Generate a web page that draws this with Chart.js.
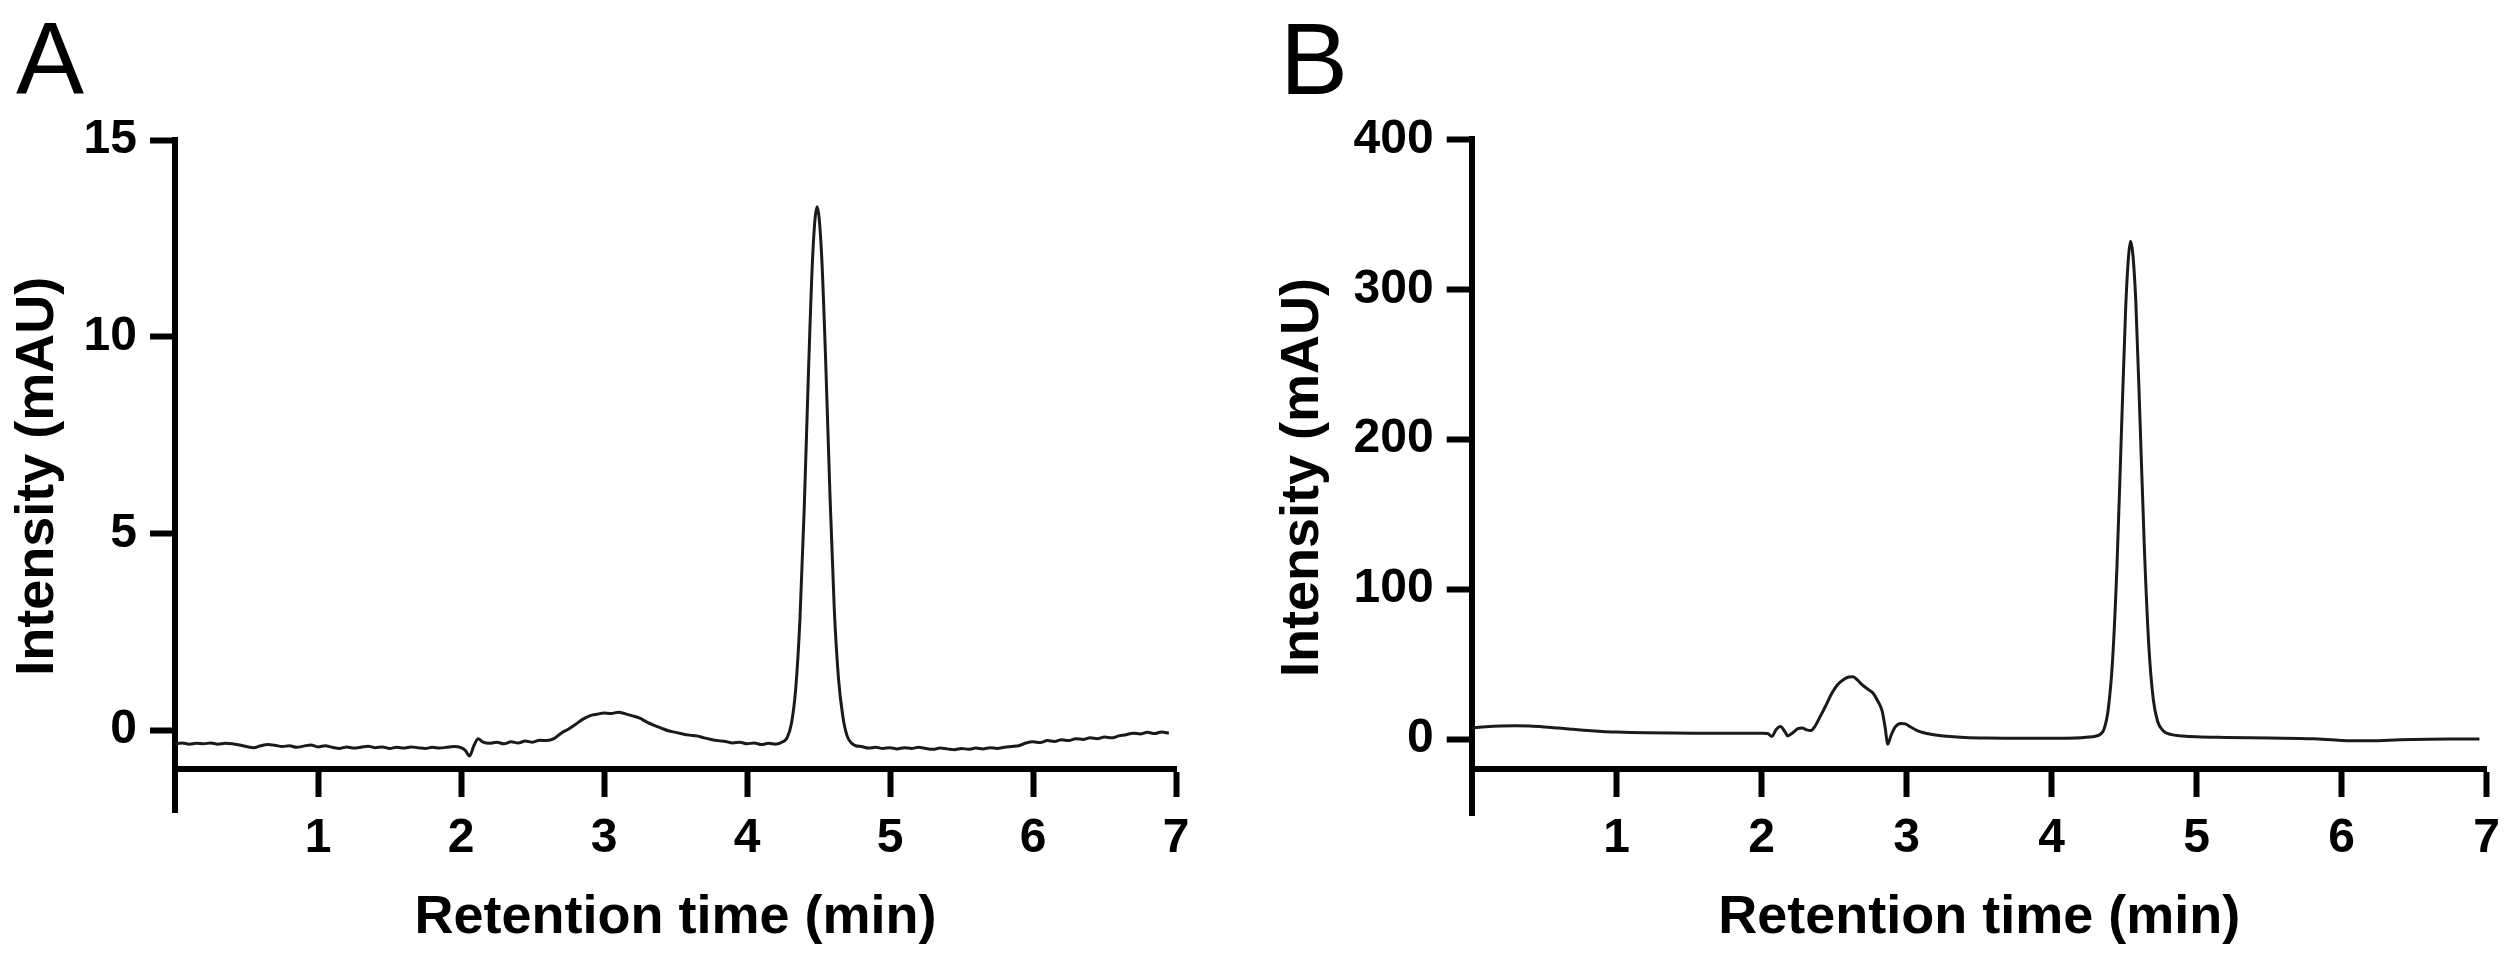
<!DOCTYPE html>
<html>
<head>
<meta charset="utf-8">
<title>Retention time chromatograms</title>
<script src="https://cdn.jsdelivr.net/npm/chart.js@4.4.1/dist/chart.umd.min.js"></script>
<style>
  html, body { margin: 0; padding: 0; background: #fff; }
  #wrap { position: relative; width: 2520px; height: 979px; }
  canvas { position: absolute; top: 0; }
</style>
</head>
<body>
<div id="wrap">
  <canvas id="chart-a" width="1260" height="979" style="left:0"></canvas>
  <canvas id="chart-b" width="1260" height="979" style="left:1260px"></canvas>
</div>
<script>
// ============================================
// Chromatograms — panel A and panel B
// ============================================

// --- Panel A: retention time (min) / intensity (mAU)
const timeA = [
  0.00, 0.05, 0.10, 0.15, 0.20, 0.25, 0.30, 0.35, 0.40, 0.45,
  0.50, 0.55, 0.60, 0.65, 0.70, 0.75, 0.80, 0.85, 0.90, 0.95,
  1.00, 1.05, 1.10, 1.15, 1.20, 1.25, 1.30, 1.35, 1.40, 1.45,
  1.50, 1.55, 1.60, 1.65, 1.70, 1.75, 1.80, 1.85, 1.90, 1.95,
  2.00, 2.03, 2.06, 2.09, 2.12, 2.15, 2.20, 2.25, 2.30, 2.35,
  2.40, 2.45, 2.50, 2.55, 2.60, 2.65, 2.70, 2.75, 2.80, 2.85,
  2.90, 2.95, 3.00, 3.05, 3.10, 3.15, 3.20, 3.25, 3.30, 3.35,
  3.40, 3.45, 3.50, 3.55, 3.60, 3.65, 3.70, 3.75, 3.80, 3.85,
  3.90, 3.95, 4.00, 4.05, 4.10, 4.15, 4.20, 4.25, 4.28, 4.31,
  4.34, 4.37, 4.40, 4.43, 4.46, 4.49, 4.52, 4.55, 4.58, 4.61,
  4.64, 4.67, 4.70, 4.73, 4.76, 4.80, 4.85, 4.90, 4.95, 5.00,
  5.05, 5.10, 5.15, 5.20, 5.25, 5.30, 5.35, 5.40, 5.45, 5.50,
  5.55, 5.60, 5.65, 5.70, 5.75, 5.80, 5.85, 5.90, 5.95, 6.00,
  6.05, 6.10, 6.15, 6.20, 6.25, 6.30, 6.35, 6.40, 6.45, 6.50,
  6.55, 6.60, 6.65, 6.70, 6.75, 6.80, 6.85, 6.90, 6.95
];
const intensityA = [
  -0.35, -0.33, -0.36, -0.34, -0.35, -0.33, -0.36, -0.34, -0.35, -0.38,
  -0.42, -0.45, -0.40, -0.37, -0.39, -0.42, -0.40, -0.44, -0.41, -0.38,
  -0.43, -0.40, -0.44, -0.47, -0.43, -0.46, -0.44, -0.41, -0.45, -0.43,
  -0.47, -0.44, -0.46, -0.43, -0.45, -0.47, -0.44, -0.46, -0.44, -0.42,
  -0.45, -0.52, -0.66, -0.40, -0.22, -0.30, -0.34, -0.31, -0.35, -0.30,
  -0.33, -0.28, -0.31, -0.26, -0.27, -0.22, -0.08, 0.02, 0.14, 0.27,
  0.36, 0.40, 0.43, 0.42, 0.45, 0.41, 0.36, 0.30, 0.20, 0.12,
  0.05, -0.02, -0.06, -0.10, -0.13, -0.15, -0.20, -0.24, -0.27, -0.29,
  -0.33, -0.31, -0.35, -0.33, -0.37, -0.34, -0.36, -0.30, -0.20, 0.15,
  1.02, 2.79, 5.62, 9.11, 12.10, 13.30, 12.20, 9.40, 6.00, 3.10,
  1.30, 0.35, -0.15, -0.33, -0.40, -0.42, -0.46, -0.44, -0.47, -0.45,
  -0.48, -0.45, -0.47, -0.44, -0.47, -0.49, -0.46, -0.48, -0.50, -0.47,
  -0.49, -0.46, -0.48, -0.45, -0.47, -0.44, -0.42, -0.40, -0.33, -0.30,
  -0.32, -0.27, -0.29, -0.25, -0.27, -0.22, -0.24, -0.20, -0.22, -0.18,
  -0.20, -0.15, -0.12, -0.08, -0.10, -0.06, -0.09, -0.05, -0.08
];
const yTicksA = [0, 5, 10, 15];
const yRangeA = [-2.1, 15];
const xAxisAtA = -1;

// --- Panel B
const timeB = [
  0.00, 0.10, 0.20, 0.30, 0.40, 0.50, 0.60, 0.70, 0.80, 0.90,
  1.00, 1.10, 1.20, 1.40, 1.60, 1.80, 2.00, 2.04, 2.07, 2.10,
  2.13, 2.16, 2.18, 2.21, 2.25, 2.28, 2.31, 2.34, 2.37, 2.40,
  2.44, 2.48, 2.52, 2.56, 2.60, 2.63, 2.66, 2.69, 2.73, 2.77,
  2.80, 2.83, 2.85, 2.87, 2.89, 2.92, 2.96, 2.99, 3.03, 3.09,
  3.15, 3.21, 3.30, 3.40, 3.55, 3.80, 4.00, 4.10, 4.20, 4.26,
  4.30, 4.33, 4.36, 4.39, 4.42, 4.45, 4.48, 4.51, 4.53, 4.545,
  4.56, 4.58, 4.61, 4.64, 4.67, 4.70, 4.73, 4.77, 4.82, 4.90,
  5.00, 5.20, 5.50, 5.80, 6.00, 6.20, 6.40, 6.60, 6.80, 6.95
];
const intensityB = [
  7.5, 8.3, 8.8, 9.0, 8.8, 8.2, 7.4, 6.6, 5.8, 5.2,
  4.8, 4.5, 4.3, 4.1, 4.0, 3.9, 3.9, 3.8, 1.8, 6.5,
  8.4, 5.0, 2.2, 4.0, 7.0, 7.5, 6.2, 5.8, 9.0, 14.5,
  22.0, 30.0, 36.0, 39.5, 41.5, 41.7, 39.5, 36.5, 33.5, 30.5,
  25.5, 19.0, 8.6, -3.3, 2.0, 8.0, 10.5, 10.2, 8.0, 5.0,
  3.6, 2.7, 1.8, 1.2, 0.8, 0.6, 0.6, 0.7, 1.0, 1.4,
  2.0, 3.0, 6.5, 20.0, 53.0, 115.0, 202.0, 287.0, 322.0, 332.0,
  323.0, 292.0, 210.0, 125.0, 62.0, 27.0, 12.0, 5.5, 3.2, 2.2,
  1.6, 1.2, 0.8, 0.3, -0.8, -1.0, -0.4, 0.0, 0.1, 0.2
];
const yTicksB = [0, 100, 200, 300, 400];
const yRangeB = [-51, 400];
const xAxisAtB = -20;

// --- shared axis
const xTicks = [1, 2, 3, 4, 5, 6, 7];
const xRange = [0, 7];

const FONT = "'Liberation Sans', Arial, Helvetica, sans-serif";

function toPoints(xs, ys) {
  return xs.map((x, i) => ({ x, y: ys[i] }));
}

function buildChart(canvasId, cfg) {
  const tickFont = { family: FONT, size: 48, weight: 'bold', lineHeight: 1.2 };

  return new Chart(document.getElementById(canvasId), {
    type: 'line',
    data: {
      datasets: [{
        data: toPoints(cfg.time, cfg.intensity),
        borderColor: '#1a1a1a',
        borderWidth: 3,
        pointRadius: 0,
        fill: false,
        cubicInterpolationMode: 'monotone'
      }]
    },
    options: {
      responsive: false,
      devicePixelRatio: 1,
      animation: false,
      events: [],
      layout: {
        padding: { left: cfg.padLeft, right: cfg.padRight, top: 0, bottom: cfg.padBottom }
      },
      plugins: {
        legend: { display: false },
        tooltip: { enabled: false },
        title: {
          display: true,
          text: cfg.letter,
          align: 'start',
          color: '#000',
          font: { family: FONT, size: 102, weight: 'normal', lineHeight: 1 },
          padding: { top: 15, bottom: cfg.letterGap }
        }
      },
      scales: {
        x: {
          type: 'linear',
          position: { y: cfg.xAxisAt },
          min: xRange[0],
          max: xRange[1],
          afterBuildTicks: (s) => { s.ticks = xTicks.map(v => ({ value: v })); },
          border: { display: true, width: 6, color: '#000' },
          grid: { drawOnChartArea: false, drawTicks: true, tickLength: 25, tickWidth: 6, tickColor: '#000' },
          ticks: { color: '#000', font: tickFont, padding: 16, autoSkip: false, maxRotation: 0 },
          title: {
            display: true,
            text: 'Retention time (min)',
            color: '#000',
            font: { family: FONT, size: 54, weight: 'bold', lineHeight: 1.2 },
            padding: { top: 2, bottom: 0 }
          }
        },
        y: {
          type: 'linear',
          position: 'left',
          min: cfg.yRange[0],
          max: cfg.yRange[1],
          afterBuildTicks: (s) => { s.ticks = cfg.yTicks.map(v => ({ value: v })); },
          afterFit: (s) => { s.width = cfg.yAxisWidth; },
          border: { display: true, width: 6, color: '#000' },
          grid: { drawOnChartArea: false, drawTicks: true, tickLength: 25, tickWidth: 6, tickColor: '#000' },
          ticks: { color: '#000', font: tickFont, padding: 13 },
          title: {
            display: true,
            text: 'Intensity (mAU)',
            color: '#000',
            font: { family: FONT, size: 54, weight: 'bold', lineHeight: cfg.yTitleLH },
            padding: { top: 0, bottom: 0 }
          }
        }
      }
    }
  });
}

buildChart('chart-a', {
  letter: 'A',
  time: timeA,
  intensity: intensityA,
  yTicks: yTicksA,
  yRange: yRangeA,
  xAxisAt: xAxisAtA,
  padLeft: 16,
  padRight: 84,
  padBottom: 166.4,
  yAxisWidth: 159,
  yTitleLH: 0.83,
  letterGap: 23
});

buildChart('chart-b', {
  letter: 'B',
  time: timeB,
  intensity: intensityB,
  yTicks: yTicksB,
  yRange: yRangeB,
  xAxisAt: xAxisAtB,
  padLeft: 20,
  padRight: 33.3,
  padBottom: 163.3,
  yAxisWidth: 191.7,
  yTitleLH: 0.87,
  letterGap: 22.3
});
</script>
</body>
</html>
